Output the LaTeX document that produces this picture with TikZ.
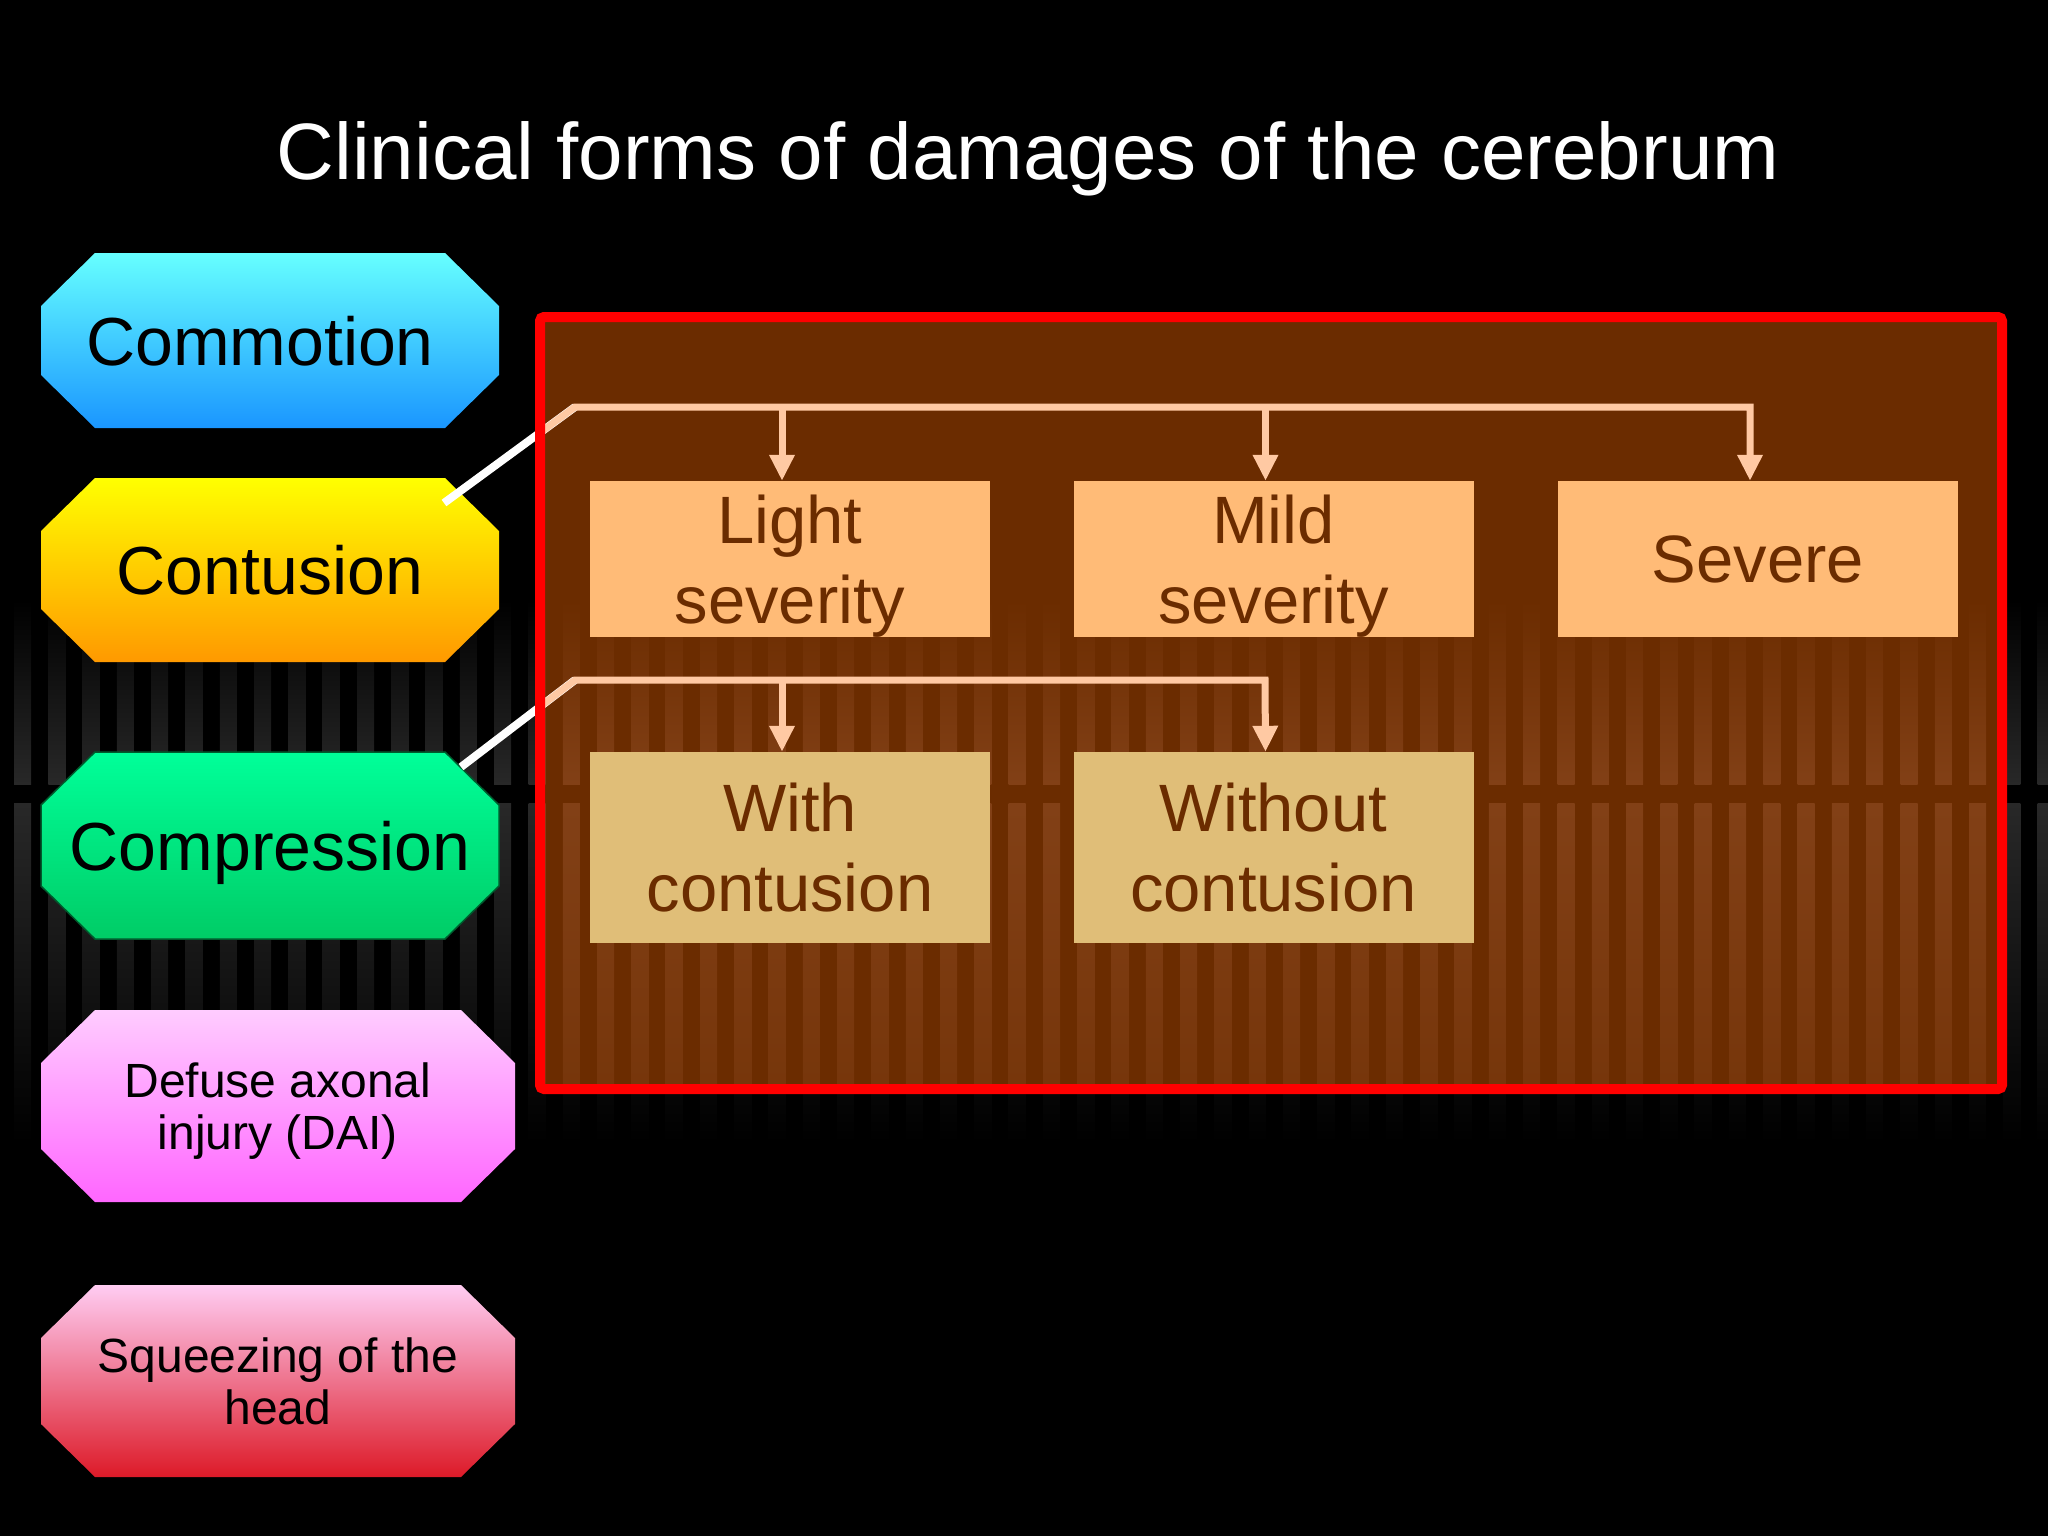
\documentclass[tikz,border=0pt]{standalone}
\usepackage{fontspec}
\setmainfont{Liberation Sans}
\usetikzlibrary{arrows.meta,calc}
\definecolor{panelbrown}{RGB}{107,44,0}
\definecolor{stripebrown}{RGB}{130,64,22}
\definecolor{stripegray}{RGB}{40,40,40}
\definecolor{peach}{RGB}{255,201,163}
\definecolor{boxorange}{RGB}{255,187,119}
\definecolor{boxtan}{RGB}{224,190,120}
\definecolor{framered}{RGB}{255,0,0}
\definecolor{cyanT}{RGB}{102,255,255}
\definecolor{cyanB}{RGB}{26,150,255}
\definecolor{yelT}{RGB}{255,255,0}
\definecolor{yelB}{RGB}{255,153,0}
\definecolor{grnT}{RGB}{0,255,153}
\definecolor{grnB}{RGB}{0,204,102}
\definecolor{grnE}{RGB}{0,90,45}
\definecolor{pnkT}{RGB}{255,204,255}
\definecolor{pnkB}{RGB}{255,102,255}
\definecolor{redT}{RGB}{255,204,242}
\definecolor{redB}{RGB}{221,26,40}
\tikzset{
  octtext/.style={inner sep=0pt, align=center, text=black, text depth=0pt},
  sevbox/.style={rectangle, inner sep=0pt, minimum width=400pt, minimum height=156pt,
    align=center, text=panelbrown, font=\fontsize{67}{80}\selectfont, text depth=0pt},
  peachline/.style={draw=peach, line width=7pt},
  peacharrow/.style={peachline, -{Triangle[width=24pt,length=26pt]}},
  whiteline/.style={draw=white, line width=8pt},
}
\newcommand\octbox[9]{%
  \path[#6]
    (#2+54,#3) -- (#4-54,#3) -- (#4,#3+53) -- (#4,#5-53) -- (#4-54,#5) --
    (#2+54,#5) -- (#2,#5-53) -- (#2,#3+53) -- cycle;
  \node[octtext,font=#7] (#1) at ({(#2+#4)/2+#9},{(#3+#5)/2}) {#8};
}
\begin{document}
\begin{tikzpicture}[x=1pt,y=-1pt]
% background
\fill[black] (0,0) rectangle (2048,1536);
\useasboundingbox (0,0) rectangle (2048,1536);
% stripes
\foreach \i in {0,...,59}{
  \pgfmathsetmacro\xs{14+34.3*\i}
  \shade[top color=black, bottom color=stripegray] (\xs,600) rectangle ({\xs+17},784);
  \shade[top color=stripegray, bottom color=black] (\xs,803) rectangle ({\xs+17},1143);
}
% panel
\fill[panelbrown] (540,317) rectangle (2002,1089);
\begin{scope}
  \clip (540,317) rectangle (2002,1089);
  \foreach \i in {0,...,59}{
    \pgfmathsetmacro\xs{14+34.3*\i}
    \shade[top color=panelbrown, bottom color=stripebrown] (\xs,600) rectangle ({\xs+17},784);
    \shade[top color=stripebrown, bottom color=panelbrown!60!stripebrown] (\xs,803) rectangle ({\xs+17},1143);
  }
\end{scope}
% title
\node[font=\fontsize{80}{96}\selectfont, text=white, anchor=base] (title) at (1028,179)
  {Clinical forms of damages of the cerebrum};
% left octagons
\octbox{commotion}{41}{253}{499}{428}{top color=cyanT,bottom color=cyanB}{\fontsize{68}{80}\selectfont}{Commotion}{-10}
\octbox{contusion}{41}{478}{499}{662}{top color=yelT,bottom color=yelB}{\fontsize{68}{80}\selectfont}{Contusion}{0}
\octbox{compression}{41}{752}{499}{939}{top color=grnT,bottom color=grnB,draw=grnE,line width=1.5pt}{\fontsize{68}{80}\selectfont}{Compression}{0}
\octbox{dai}{41}{1010}{515}{1202}{top color=pnkT,bottom color=pnkB}{\fontsize{48}{52}\selectfont}{Defuse axonal\\injury (DAI)}{0}
\octbox{squeeze}{41}{1285}{515}{1477}{top color=redT,bottom color=redB}{\fontsize{48}{52}\selectfont}{Squeezing of the\\head}{0}
% severity boxes
\node[sevbox, fill=boxorange] (light) at (790,559) {Light\\severity};
\node[sevbox, fill=boxorange] (mild) at (1273.5,559) {Mild\\severity};
\node[sevbox, fill=boxorange] (severe) at (1758,559) {Severe};
\node[sevbox, fill=boxtan, minimum height=191pt] (with) at (790,847.5) {With\\contusion};
\node[sevbox, fill=boxtan, minimum height=191pt] (without) at (1273.5,847.5) {Without\\contusion};
% connector coordinates
\coordinate (ctA) at (444,503);
\coordinate (busA) at (575,407);
\coordinate (busAend) at (1750,407);
\coordinate (cpB) at (461,767);
\coordinate (busB) at (575,680);
\coordinate (busBend) at (1265,680);
% white lines
\draw[whiteline] (ctA) -- (busA);
\draw[whiteline] (cpB) -- (busB);
% peach lines inside panel
\begin{scope}
  \clip (540,317) rectangle (2002,1089);
  \draw[peacharrow] (ctA) -- (busA) -- (busAend) -- ($(severe.north)+(-8,0)$);
  \draw[peacharrow] ($(light.north |- busA)+(-8,0)$) -- ($(light.north)+(-8,0)$);
  \draw[peacharrow] ($(mild.north |- busA)+(-8,0)$) -- ($(mild.north)+(-8,0)$);
  \draw[peacharrow] (cpB) -- (busB) -- (busBend) -- ($(without.north)+(-8,0)$);
  \draw[peacharrow] ($(with.north |- busB)+(-8,0)$) -- ($(with.north)+(-8,0)$);
\end{scope}
% red frame
\draw[framered, line width=10pt, rounded corners=4pt] (540,317) rectangle (2002,1089);
\end{tikzpicture}
\end{document}
